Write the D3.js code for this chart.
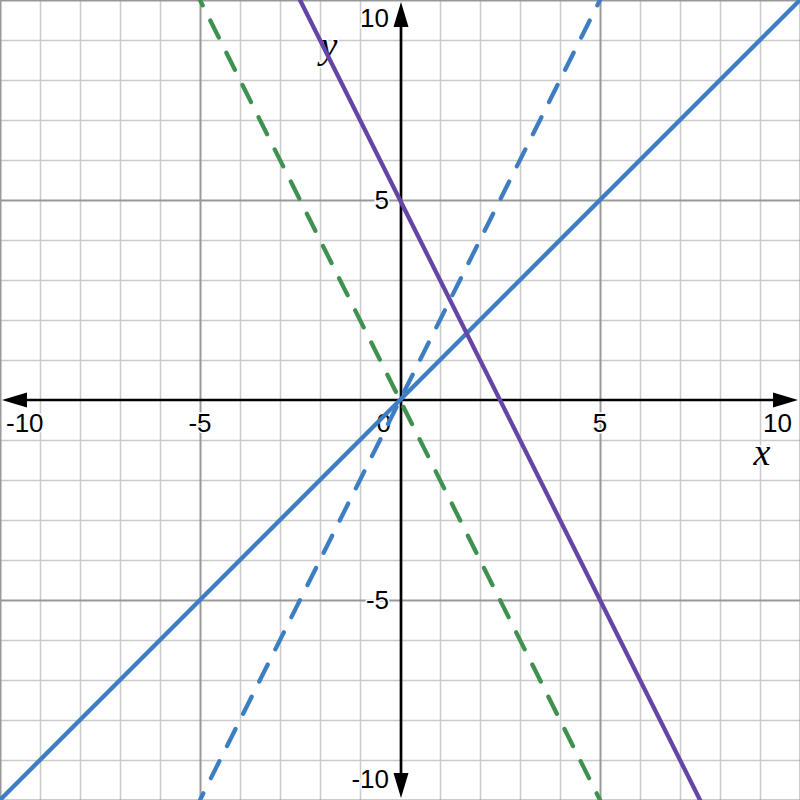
<!DOCTYPE html>
<html>
<head>
<meta charset="utf-8">
<script src="https://cdn.jsdelivr.net/npm/d3@7"></script>
<style>
  html, body { margin: 0; padding: 0; background: #fff; }
  svg { display: block; }
</style>
</head>
<body>
<svg id="chart" width="800" height="800"></svg>
<script>
// ---- data ----
const xDomain = [-10, 10];
const yDomain = [-10, 10];
const gridValues = d3.range(-10, 11, 1);      // minor grid every unit
const majorValues = [-10, -5, 0, 5, 10];       // major grid
const xTickValues = [-10, -5, 0, 5, 10];
const xTickLabels = ["-10", "-5", "0", "5", "10"];
const yTickValues = [-10, -5, 5, 10];
const yTickLabels = ["-10", "-5", "5", "10"];

// lines y = slope * x + intercept
const lineNames      = ["green dashed", "blue dashed", "blue solid", "purple solid"];
const lineSlopes     = [-2, 2, 1, -2];
const lineIntercepts = [0, 0, 0, 5];
const lineColors     = ["#3f9150", "#3d7ec2", "#3d7ec2", "#6545a6"];
const lineDashed     = [true, true, false, false];

// ---- chart ----
const W = 800, H = 800;
const svg = d3.select("#chart");
const x = d3.scaleLinear().domain(xDomain).range([0, W]);
const y = d3.scaleLinear().domain(yDomain).range([H, 0]);

// grid
const grid = svg.append("g");
const minorVals = gridValues.filter(v => !majorValues.includes(v));
const majorVals = majorValues.filter(v => v !== 0);
grid.selectAll("line.vx").data(minorVals).join("line").attr("class", "vx")
  .attr("x1", d => x(d) + 0.5).attr("x2", d => x(d) + 0.5).attr("y1", 0).attr("y2", H)
  .attr("stroke", "#cccccc").attr("stroke-width", 1.6);
grid.selectAll("line.hy").data(minorVals).join("line").attr("class", "hy")
  .attr("y1", d => y(d) + 0.5).attr("y2", d => y(d) + 0.5).attr("x1", 0).attr("x2", W)
  .attr("stroke", "#cccccc").attr("stroke-width", 1.6);
grid.selectAll("line.mx").data(majorVals).join("line").attr("class", "mx")
  .attr("x1", d => x(d) + 0.5).attr("x2", d => x(d) + 0.5).attr("y1", 0).attr("y2", H)
  .attr("stroke", "#999999").attr("stroke-width", 2);
grid.selectAll("line.my").data(majorVals).join("line").attr("class", "my")
  .attr("y1", d => y(d) + 0.5).attr("y2", d => y(d) + 0.5).attr("x1", 0).attr("x2", W)
  .attr("stroke", "#999999").attr("stroke-width", 2);

// axes with arrowheads
const axes = svg.append("g");
const ox = x(0) + 1, oy = y(0);
axes.append("line").attr("x1", 14).attr("x2", W - 14).attr("y1", oy).attr("y2", oy)
  .attr("stroke", "#000").attr("stroke-width", 2.7);
axes.append("line").attr("y1", 14).attr("y2", H - 14).attr("x1", ox).attr("x2", ox)
  .attr("stroke", "#000").attr("stroke-width", 2.7);
const arrowLen = 25, arrowHalf = 7.5;
const arrows = [
  [[2, oy], [2 + arrowLen, oy - arrowHalf], [2 + arrowLen, oy + arrowHalf]],
  [[W - 2, oy], [W - 2 - arrowLen, oy - arrowHalf], [W - 2 - arrowLen, oy + arrowHalf]],
  [[ox, 2], [ox - arrowHalf, 2 + arrowLen], [ox + arrowHalf, 2 + arrowLen]],
  [[ox, H - 2], [ox - arrowHalf, H - 2 - arrowLen], [ox + arrowHalf, H - 2 - arrowLen]]
];
axes.selectAll("path").data(arrows).join("path")
  .attr("d", d => "M" + d.map(p => p.join(",")).join("L") + "Z")
  .attr("fill", "#000");

// tick labels
const labelFont = "Liberation Sans, Arial, Helvetica, sans-serif";
const labels = svg.append("g")
  .attr("font-family", labelFont).attr("font-size", 26).attr("fill", "#000")
  .attr("stroke", "#fff").attr("stroke-width", 3).attr("paint-order", "stroke");

labels.selectAll("text.xt").data(xTickValues).join("text")
  .attr("class", "xt")
  .attr("x", d => d === 0 ? x(0) - 9 : x(d))
  .attr("y", y(0) + 32)
  .attr("text-anchor", d => d === 0 ? "end" : "middle")
  .text((d, i) => xTickLabels[i])
  .each(function () {
    const b = this.getBBox();
    const cur = +this.getAttribute("x");
    if (b.x < 6) this.setAttribute("x", cur + (6 - b.x));
    if (b.x + b.width > W - 8) this.setAttribute("x", cur - (b.x + b.width - (W - 8)));
  });

labels.selectAll("text.yt").data(yTickValues).join("text")
  .attr("class", "yt")
  .attr("x", x(0) - 11)
  .attr("y", d => y(d) + 9)
  .attr("text-anchor", "end")
  .text((d, i) => yTickLabels[i])
  .each(function (d) {
    if (d === yDomain[1]) this.setAttribute("y", 27);
    if (d === yDomain[0]) this.setAttribute("y", 788);
  });

// axis titles
const titles = svg.append("g")
  .attr("font-family", "Liberation Serif, Times New Roman, serif")
  .attr("font-style", "italic").attr("font-size", 38).attr("fill", "#000")
  .attr("stroke", "#fff").attr("stroke-width", 3).attr("paint-order", "stroke");
titles.append("text").attr("x", 762).attr("y", 465).attr("text-anchor", "middle").text("x");
titles.append("text").attr("x", 329).attr("y", 58).attr("text-anchor", "middle").text("y");

// function lines
const lineGen = d3.line().x(d => x(d[0])).y(d => y(d[1]));
function segment(m, b) {
  // endpoints of y = m x + b clipped to the view, ordered from top to bottom
  const pts = [];
  [yDomain[1], yDomain[0]].forEach(yy => {
    const xx = (yy - b) / m;
    if (xx >= xDomain[0] && xx <= xDomain[1]) pts.push([xx, yy]);
  });
  xDomain.forEach(xx => {
    const yy = m * xx + b;
    if (yy > yDomain[0] && yy < yDomain[1]) pts.push([xx, yy]);
  });
  pts.sort((a, c) => c[1] - a[1]);
  return [pts[0], pts[pts.length - 1]];
}
const curves = svg.append("g").attr("fill", "none");
curves.selectAll("path").data(lineNames).join("path")
  .attr("d", (d, i) => lineGen(segment(lineSlopes[i], lineIntercepts[i])))
  .attr("stroke", (d, i) => lineColors[i])
  .attr("stroke-width", 4.3)
  .attr("stroke-linecap", "round")
  .attr("stroke-dasharray", (d, i) => lineDashed[i] ? "19,17" : null)
  .attr("stroke-dashoffset", (d, i) => lineDashed[i] ? 13 : null);
</script>
</body>
</html>
